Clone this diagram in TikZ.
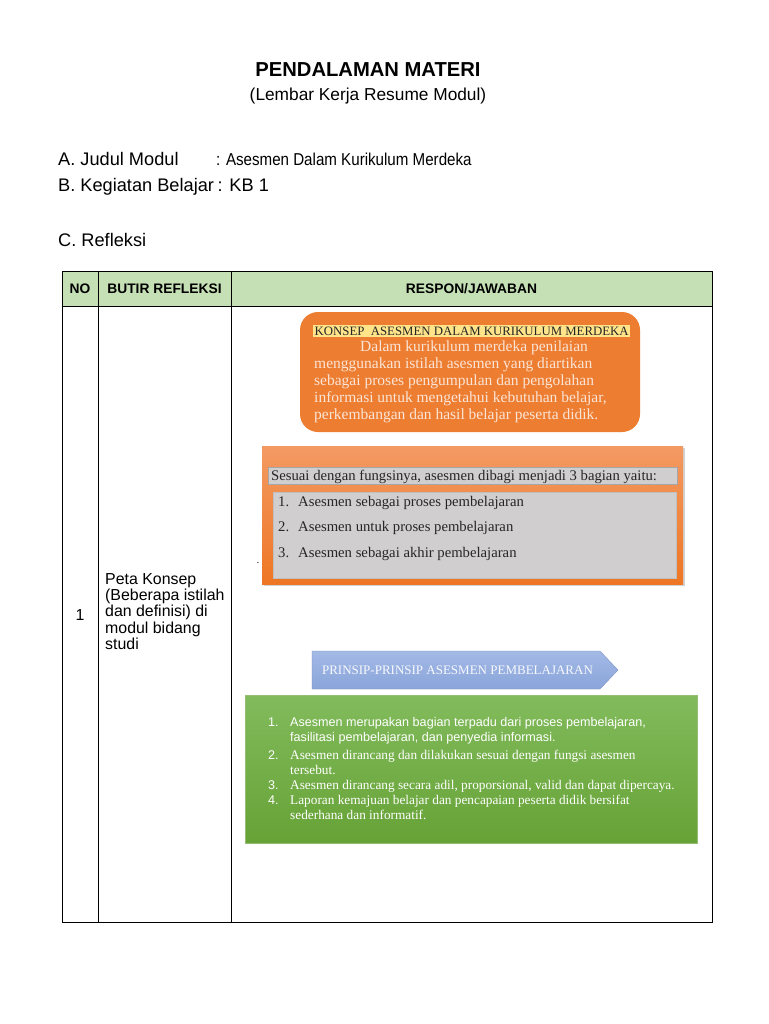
\documentclass[tikz,border=0pt]{standalone}
\usepackage{fontspec}
\setmainfont{Liberation Sans}
\newfontfamily\sansnarrow[FakeStretch=0.88]{Liberation Sans}
\newfontfamily\cambria{Liberation Serif}
\usetikzlibrary{shadows}

\definecolor{headgreen}{HTML}{C5E0B4}
\definecolor{konsepor}{HTML}{ED7D31}
\definecolor{konsepyel}{HTML}{FFE48A}
\definecolor{konseptext}{HTML}{FBE5D6}
\definecolor{fungsitop}{HTML}{F39A63}
\definecolor{fungsibot}{HTML}{EE7624}
\definecolor{fungsigray}{HTML}{D0CECE}
\definecolor{prinsiptop}{HTML}{A3B9E6}
\definecolor{prinsipbot}{HTML}{8AA5DA}
\definecolor{poingreentop}{HTML}{82BB5C}
\definecolor{poingreenbot}{HTML}{66A236}
\definecolor{darktext}{HTML}{262626}

\tikzset{
  headcell/.style={font=\bfseries\fontsize{13.8}{15}\selectfont},
  bodyline/.style={anchor=base west, inner sep=0, font=\fontsize{18.2}{20}\selectfont},
  konsepline/.style={anchor=base west, inner sep=0, text=konseptext, font=\cambria\fontsize{15.5}{17}\selectfont},
  fungsiline/.style={anchor=base west, inner sep=0, text=darktext, font=\cambria\fontsize{14.7}{17}\selectfont},
  poinsans/.style={anchor=base west, inner sep=0, text=white, font=\fontsize{12.6}{15}\selectfont},
  poinserif/.style={anchor=base west, inner sep=0, text=white, font=\cambria\fontsize{13.3}{15}\selectfont}
}

\begin{document}
\begin{tikzpicture}[x=1pt,y=-1pt]
\useasboundingbox (0,0) rectangle (768,1024);
\fill[white] (0,0) rectangle (768,1024);

% judul halaman
\node[font=\bfseries\fontsize{20.2}{22}\selectfont] (judul) at (368,70) {PENDALAMAN MATERI};
\node[font=\fontsize{17.3}{20}\selectfont] (subjudul) at (368,96) {(Lembar Kerja Resume Modul)};

\node[bodyline] (modul) at (58,166) {A. Judul Modul};
\node[bodyline, font=\sansnarrow\fontsize{17.2}{20}\selectfont] (modulisi) at (216,166) {: Asesmen Dalam Kurikulum Merdeka};
\node[bodyline] (kegiatan) at (58,192) {B. Kegiatan Belajar};
\node[bodyline] (kegiatanisi) at (217.5,192) {: KB 1};
\node[bodyline] (refleksi) at (58,246) {C. Refleksi};

% tabel
\fill[headgreen] (62,271) rectangle (712,306);
\draw[line width=0.9pt] (62,271) rectangle (712,922);
\draw[line width=0.9pt] (62,306) -- (712,306);
\draw[line width=0.9pt] (98,271) -- (98,922);
\draw[line width=0.9pt] (231,271) -- (231,922);
\node[headcell] (no) at (80,289) {NO};
\node[headcell] (butir) at (164.5,289) {BUTIR REFLEKSI};
\node[headcell] (respon) at (471.5,289) {RESPON/JAWABAN};

\node[font=\fontsize{15.9}{16}\selectfont] (nomor) at (80,615) {1};
\node[anchor=north west, inner sep=0, align=left, font=\fontsize{15.9}{16.3}\selectfont] (peta) at (105,573)
  {Peta Konsep\\(Beberapa istilah\\dan definisi) di\\modul bidang\\studi};

% konsep asesmen
\fill[konsepor, rounded corners=18pt] (300,312) rectangle (640,432);
\node[fill=konsepyel, inner sep=1.5pt, anchor=base west, text=darktext,
  font=\cambria\fontsize{12.8}{15}\selectfont] (konsep) at (313,335)
  {KONSEP\ \ ASESMEN DALAM KURIKULUM MERDEKA};
\node[konsepline] (k1) at (360,351) {Dalam kurikulum merdeka penilaian};
\node[konsepline] (k2) at (314,368) {menggunakan istilah asesmen yang diartikan};
\node[konsepline] (k3) at (314,385) {sebagai proses pengumpulan dan pengolahan};
\node[konsepline] (k4) at (314,402) {informasi untuk mengetahui kebutuhan belajar,};
\node[konsepline] (k5) at (314,419) {perkembangan dan hasil belajar peserta didik.};

% fungsi asesmen
\shade[top color=fungsitop, bottom color=fungsibot, drop shadow={opacity=0.35, shadow xshift=2pt, shadow yshift=-2pt}]
  (262,446) rectangle (683,584);
\fill[fungsigray, draw=black!35] (268,467) rectangle (677,484);
\fill[fungsigray, draw=black!25] (273,492) rectangle (676,578);
\node[fungsiline] (fungsi) at (271,480) {Sesuai dengan fungsinya, asesmen dibagi menjadi 3 bagian yaitu:};
\foreach \i/\t/\y in {1/Asesmen sebagai proses pembelajaran/506,
                      2/Asesmen untuk proses pembelajaran/531,
                      3/Asesmen sebagai akhir pembelajaran/557}{
  \node[fungsiline] (fn\i) at (278,\y) {\i.};
  \node[fungsiline] (ft\i) at (298,\y) {\t};
}
\node[font=\fontsize{10}{12}\selectfont] (titik) at (258,563) {.};

% prinsip asesmen
\shade[top color=prinsiptop, bottom color=prinsipbot]
  (312,651) -- (600,651) -- (618,670) -- (600,689) -- (312,689) -- cycle;
\draw[prinsipbot!85!black, line width=0.3pt]
  (312,651) -- (600,651) -- (618,670) -- (600,689) -- (312,689) -- cycle;
\node[text=white!92!prinsiptop, font=\cambria\fontsize{13}{14}\selectfont] (prinsip) at (457.5,670)
  {PRINSIP-PRINSIP ASESMEN PEMBELAJARAN};

\shade[top color=poingreentop, bottom color=poingreenbot] (245,695) rectangle (697,843);
\draw[poingreenbot!70, line width=0.4pt] (245,695) rectangle (697,843);
\node[poinsans] (pn1) at (268,726) {1.};
\node[poinsans] (pt1a) at (290,726) {Asesmen merupakan bagian terpadu dari proses pembelajaran,};
\node[poinsans] (pt1b) at (290,741) {fasilitasi pembelajaran, dan penyedia informasi.};
\node[poinsans] (pn2) at (268,759) {2.};
\node[poinserif] (pt2a) at (290,759) {Asesmen dirancang dan dilakukan sesuai dengan fungsi asesmen};
\node[poinserif] (pt2b) at (290,774) {tersebut.};
\node[poinsans] (pn3) at (268,789) {3.};
\node[poinserif] (pt3) at (290,789) {Asesmen dirancang secara adil, proporsional, valid dan dapat dipercaya.};
\node[poinsans] (pn4) at (268,804) {4.};
\node[poinserif] (pt4a) at (290,804) {Laporan kemajuan belajar dan pencapaian peserta didik bersifat};
\node[poinserif] (pt4b) at (290,819) {sederhana dan informatif.};
\end{tikzpicture}
\end{document}
